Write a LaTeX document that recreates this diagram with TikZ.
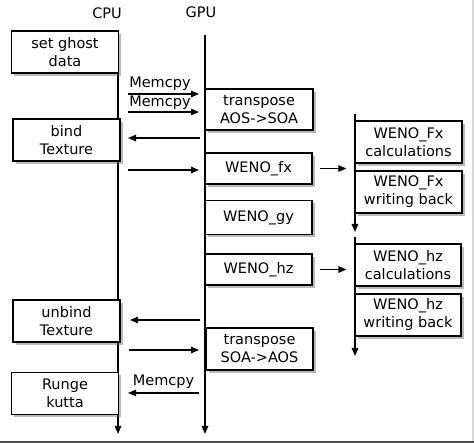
\documentclass[tikz,border=0pt]{standalone}
\usepackage{fontspec}
\setmainfont{DejaVu Sans}
\usetikzlibrary{arrows.meta,shadows}

\begin{document}
\begin{tikzpicture}[x=1pt,y=-1pt,
  line width=1.3pt,
  step box/.style={rectangle,draw,fill=white,align=center,inner sep=1pt,
    font=\fontsize{14.5}{18}\selectfont,minimum width=107pt,minimum height=42pt,
    drop shadow={shadow xshift=2.5pt,shadow yshift=-3pt,opacity=.45,fill=black!60}},
  low box/.style={step box,minimum height=31pt},
  flow/.style={-{Triangle[length=8pt,width=6.5pt]}},
  lbl/.style={font=\fontsize{14.5}{17}\selectfont,inner sep=0pt}]

  \useasboundingbox (0,0) rectangle (474,443);
  \fill[black!70] (0,441) rectangle (474,443);
  \fill[black!15] (471.5,0) rectangle (474,441);

  % headers
  \node[lbl] (cpu) at (107,13) {CPU};
  \node[lbl] (gpu) at (201,12) {GPU};

  % timelines
  \coordinate (cpu top) at (118,31);
  \coordinate (cpu end) at (118,434);
  \coordinate (gpu top) at (205,35);
  \coordinate (gpu end) at (205,434);
  \coordinate (fx top) at (355,114);
  \coordinate (fx end) at (355,232);
  \coordinate (hz top) at (355,237);
  \coordinate (hz end) at (355,356);
  \draw[flow] (cpu top) -- (cpu end);
  \draw[flow] (gpu top) -- (gpu end);
  \draw[flow] (fx top) -- (fx end);
  \draw[flow] (hz top) -- (hz end);

  % CPU side
  \node[step box] (ghost) at (65,52) {set ghost\\data};
  \node[step box] (bind) at (66.5,140) {bind\\Texture};
  \node[step box] (unbind) at (66.5,321) {unbind\\Texture};
  \node[step box] (runge) at (65,393.5) {Runge\\kutta};

  % GPU side
  \node[step box,minimum width=108pt,minimum height=41pt] (tAS) at (259,109.5) {transpose\\AOS->SOA};
  \node[low box] (wfx) at (258.5,168.5) {WENO\_fx};
  \node[low box,minimum height=34pt] (wgy) at (258.5,217.5) {WENO\_gy};
  \node[low box] (whz) at (258.5,269.5) {WENO\_hz};
  \node[step box] (tSA) at (259.5,349) {transpose\\SOA->AOS};

  % kernel details
  \node[step box] (fxc) at (408.5,142) {WENO\_Fx\\calculations};
  \node[step box] (fxw) at (408.5,192) {WENO\_Fx\\writing back};
  \node[step box,minimum width=106pt] (hzc) at (408,265) {WENO\_hz\\calculations};
  \node[step box,minimum width=106pt] (hzw) at (408,315) {WENO\_hz\\writing back};

  % transfers
  \coordinate (m1a) at (128,94);   \coordinate (m1b) at (199,94);
  \coordinate (m2a) at (128,112);  \coordinate (m2b) at (199,112);
  \coordinate (b1a) at (200,138);  \coordinate (b1b) at (128,138);
  \coordinate (f1a) at (128,170);  \coordinate (f1b) at (199,170);
  \coordinate (u1a) at (200,320);  \coordinate (u1b) at (130,320);
  \coordinate (t1a) at (129,350);  \coordinate (t1b) at (199,350);
  \coordinate (r1a) at (199,393);  \coordinate (r1b) at (128,393);
  \draw[flow] (m1a) -- node[lbl,above=3pt,pos=.45]{Memcpy} (m1b);
  \draw[flow] (m2a) -- node[lbl,above=2pt,pos=.45]{Memcpy} (m2b);
  \draw[flow] (b1a) -- (b1b);
  \draw[flow] (f1a) -- (f1b);
  \draw[flow] (u1a) -- (u1b);
  \draw[flow] (t1a) -- (t1b);
  \draw[flow] (r1a) -- node[lbl,above=4pt]{Memcpy} (r1b);
  \draw[flow] ([xshift=7pt]wfx.east) -- ([xshift=-8pt]wfx.east -| fxc.west);
  \draw[flow] ([xshift=7pt]whz.east) -- ([xshift=-8pt]whz.east -| hzc.west);
\end{tikzpicture}
\end{document}
